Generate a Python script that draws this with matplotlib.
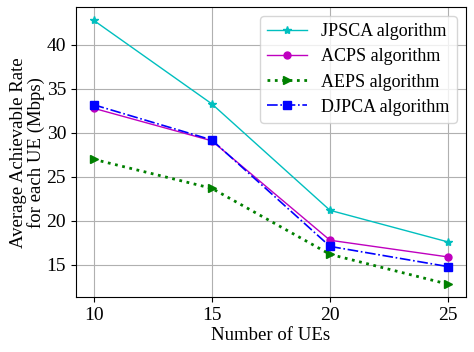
import matplotlib.pyplot as plt

plt.rcParams['font.family'] = ['Liberation Serif', 'DejaVu Serif']

num_ues = [10, 15, 20, 25]
jpsca = [42.8, 33.3, 21.2, 17.6]
acps = [32.8, 29.1, 17.8, 15.9]
aeps = [27.0, 23.7, 16.2, 12.8]
djpca = [33.2, 29.2, 17.1, 14.8]

fig, ax = plt.subplots(figsize=(4.74, 3.52), dpi=100)

ax.plot(num_ues, jpsca, '-*', color='c', lw=1, ms=6, label='JPSCA algorithm')
ax.plot(num_ues, acps, '-o', color='m', lw=1, ms=5, label='ACPS algorithm')
ax.plot(num_ues, aeps, ':>', color='green', lw=2, ms=6, label='AEPS algorithm')
ax.plot(num_ues, djpca, '-.s', color='blue', lw=1.2, ms=6, label='DJPCA algorithm')

ax.set_xticks(num_ues)
ax.set_yticks([15, 20, 25, 30, 35, 40])
ax.tick_params(labelsize=14)
ax.set_xlabel('Number of UEs', fontsize=13.5, labelpad=2)
ax.set_ylabel('Average Achievable Rate\nfor each UE (Mbps)', fontsize=13.5, linespacing=1.0, labelpad=1)
ax.grid(True)
ax.legend(fontsize=13, loc='upper right', handlelength=2.2, labelspacing=0.45)

plt.subplots_adjust(left=0.16, right=0.983, top=0.98, bottom=0.155)
plt.savefig('out.png', dpi=100)
